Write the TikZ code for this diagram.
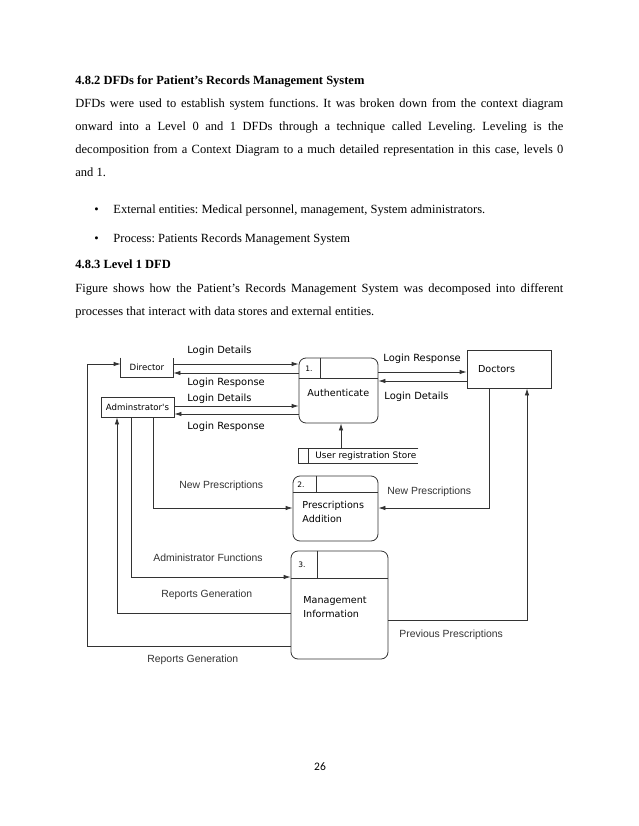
\documentclass[tikz,border=0pt]{standalone}
\usepackage{fontspec}
\setmainfont{Liberation Serif}
\newfontfamily\dfdfont{DejaVu Sans}
\newfontfamily\flowfont{Liberation Sans}
\newfontfamily\pagefont{Carlito}
\usetikzlibrary{arrows.meta, positioning}
\frenchspacing

\begin{document}
\begin{tikzpicture}[x=1pt, y=-1pt, line width=0.8pt,
  entity/.style={draw=black!80, minimum height=20pt, inner sep=0pt, font=\dfdfont\fontsize{8.6}{10}\selectfont},
  process/.style={draw=black!80, rounded corners=7pt, inner sep=0pt},
  proctext/.style={anchor=west, inner sep=0pt, align=left, font=\dfdfont\fontsize{9.6}{14}\selectfont},
  procnum/.style={inner sep=0pt, font=\dfdfont\fontsize{7.5}{9}\selectfont},
  flow/.style={draw=black!80, -{Latex[length=7pt,width=4.5pt]}},
  loginlbl/.style={anchor=west, inner sep=0pt, font=\dfdfont\fontsize{9.9}{12}\selectfont},
  flowlbl/.style={anchor=west, inner sep=0pt, font=\flowfont\fontsize{10.4}{12}\selectfont, text=black!80},
  bodyline/.style={anchor=base west, inner sep=0pt, font=\fontsize{12.5}{15}\selectfont}]
\fill[white] (0,0) rectangle (638,826);
\useasboundingbox (0,0) rectangle (638,826);

% page text
\node (head1) [bodyline, font=\bfseries\fontsize{12.5}{15}\selectfont] at (75,85) {4.8.2 DFDs for Patient’s Records Management System};
\node (par1) [bodyline] at (75,108) {\makebox[488pt][s]{DFDs were used to establish system functions. It was broken down from the context diagram}};
\node (par2) [bodyline] at (75,131) {\makebox[488pt][s]{onward into a Level 0 and 1 DFDs through a technique called Leveling. Leveling is the}};
\node (par3) [bodyline] at (75,154) {\makebox[488pt][s]{decomposition from a Context Diagram to a much detailed representation in this case, levels 0}};
\node (par4) [bodyline] at (75,177) {and 1.};
\node (dot1) [bodyline] at (94,214) {•};
\node (item1) [bodyline] at (113,214) {External entities: Medical personnel, management, System administrators.};
\node (dot2) [bodyline] at (94,242) {•};
\node (item2) [bodyline] at (113,242) {Process: Patients Records Management System};
\node (head2) [bodyline, font=\bfseries\fontsize{12.5}{15}\selectfont] at (75,268) {4.8.3 Level 1 DFD};
\node (par5) [bodyline] at (75,292) {\makebox[488pt][s]{Figure shows how the Patient’s Records Management System was decomposed into different}};
\node (par6) [bodyline] at (75,315) {processes that interact with data stores and external entities.};

% entities
\node (director) [minimum width=52pt, minimum height=19pt, inner sep=0pt, font=\dfdfont\fontsize{8.6}{10}\selectfont] at (147,367.5) {Director};
\draw[black!80] (director.north west) -- (director.south west) -- (director.south east) -- (director.north east);
\node (admin) [entity, minimum width=73pt] at (137.5,407) {Adminstrator's};
\node (doctors) [entity, minimum width=84pt, minimum height=38pt, text width=62pt, inner xsep=11pt, align=left, font=\dfdfont\fontsize{9.6}{12}\selectfont] at (509,369) {Doctors};

% processes
\node (auth) [process, minimum width=79pt, minimum height=65pt] at (338.5,390.5) {};
\draw[black!80] (auth.west |- 0,378) -- (auth.east |- 0,378);
\draw[black!80] (auth.north -| 320,0) -- (320,378);
\node (auth1) [procnum] at (309,369) {1.};
\node (authname) [proctext] at (307,393) {Authenticate};

\node (presc) [process, minimum width=85pt, minimum height=65pt] at (335.5,508.5) {};
\draw[black!80] (presc.west |- 0,492) -- (presc.east |- 0,492);
\draw[black!80] (presc.north -| 316,0) -- (316,492);
\node (presc2) [procnum] at (301,485) {2.};
\node (prescname) [proctext] at (302,512) {Prescriptions\\Addition};

\node (mgmt) [process, minimum width=97pt, minimum height=108pt] at (339.5,605) {};
\draw[black!80] (mgmt.west |- 0,578) -- (mgmt.east |- 0,578);
\draw[black!80] (mgmt.north -| 317,0) -- (317,578);
\node (mgmt3) [procnum] at (302,565) {3.};
\node (mgmtname) [proctext] at (303,607) {Management\\Information};

% data store
\node (store) [minimum width=119pt, minimum height=14pt, inner sep=0pt] at (358.5,456) {};
\draw[black!80] (store.north east) -- (store.north west) -- (store.south west) -- (store.south east);
\draw[black!80] (store.north west) ++(10,0) -- ++(0,14);
\node (storename) [anchor=west, inner sep=0pt, font=\dfdfont\fontsize{8.9}{11}\selectfont] at (315,456) {User registration Store};

% flows
\coordinate (loopcorner) at (87,364);
\draw[flow] (director.east |- 0,364) -- (auth.west |- 0,364);
\draw[flow] (auth.west |- 0,373) -- (director.east |- 0,373);
\draw[flow] (admin.east |- 0,406) -- (auth.west |- 0,406);
\draw[flow] (auth.west |- 0,414) -- (admin.east |- 0,414);
\draw[flow] (auth.east |- 0,372) -- (doctors.west |- 0,372);
\draw[flow] (doctors.west |- 0,381) -- (auth.east |- 0,381);
\draw[flow] (store.north -| 341,0) -- (auth.south -| 341,0);
\draw[flow] (admin.south -| 153,0) |- (presc.west |- 0,508);
\draw[flow] (admin.south -| 131,0) |- (mgmt.west |- 0,577);
\draw[flow] (mgmt.west |- 0,613) -| (admin.south -| 117,0);
\draw[flow] (mgmt.west |- 0,646) -| (loopcorner) -- (director.west |- 0,364);
\draw[flow] (doctors.south -| 489,0) |- (presc.east |- 0,508);
\draw[flow] (mgmt.east |- 0,620) -| (doctors.south -| 527,0);

% flow labels
\node (lbl1) [loginlbl] at (187,351) {Login Details};
\node (lbl2) [loginlbl] at (187,383) {Login Response};
\node (lbl3) [loginlbl] at (187,399) {Login Details};
\node (lbl4) [loginlbl] at (187,427) {Login Response};
\node (lbl5) [loginlbl] at (383,359) {Login Response};
\node (lbl6) [loginlbl] at (384,397) {Login Details};
\node (lbl7) [flowlbl] at (179,486) {New Prescriptions};
\node (lbl8) [flowlbl] at (387,492) {New Prescriptions};
\node (lbl9) [flowlbl] at (153,558) {Administrator Functions};
\node (lbl10) [flowlbl] at (161,595) {Reports Generation};
\node (lbl11) [flowlbl] at (399,635) {Previous Prescriptions};
\node (lbl12) [flowlbl] at (147,660) {Reports Generation};

\node (pagenum) [inner sep=0pt, font=\pagefont\fontsize{11.5}{13}\selectfont] at (320,767) {26};
\end{tikzpicture}
\end{document}
